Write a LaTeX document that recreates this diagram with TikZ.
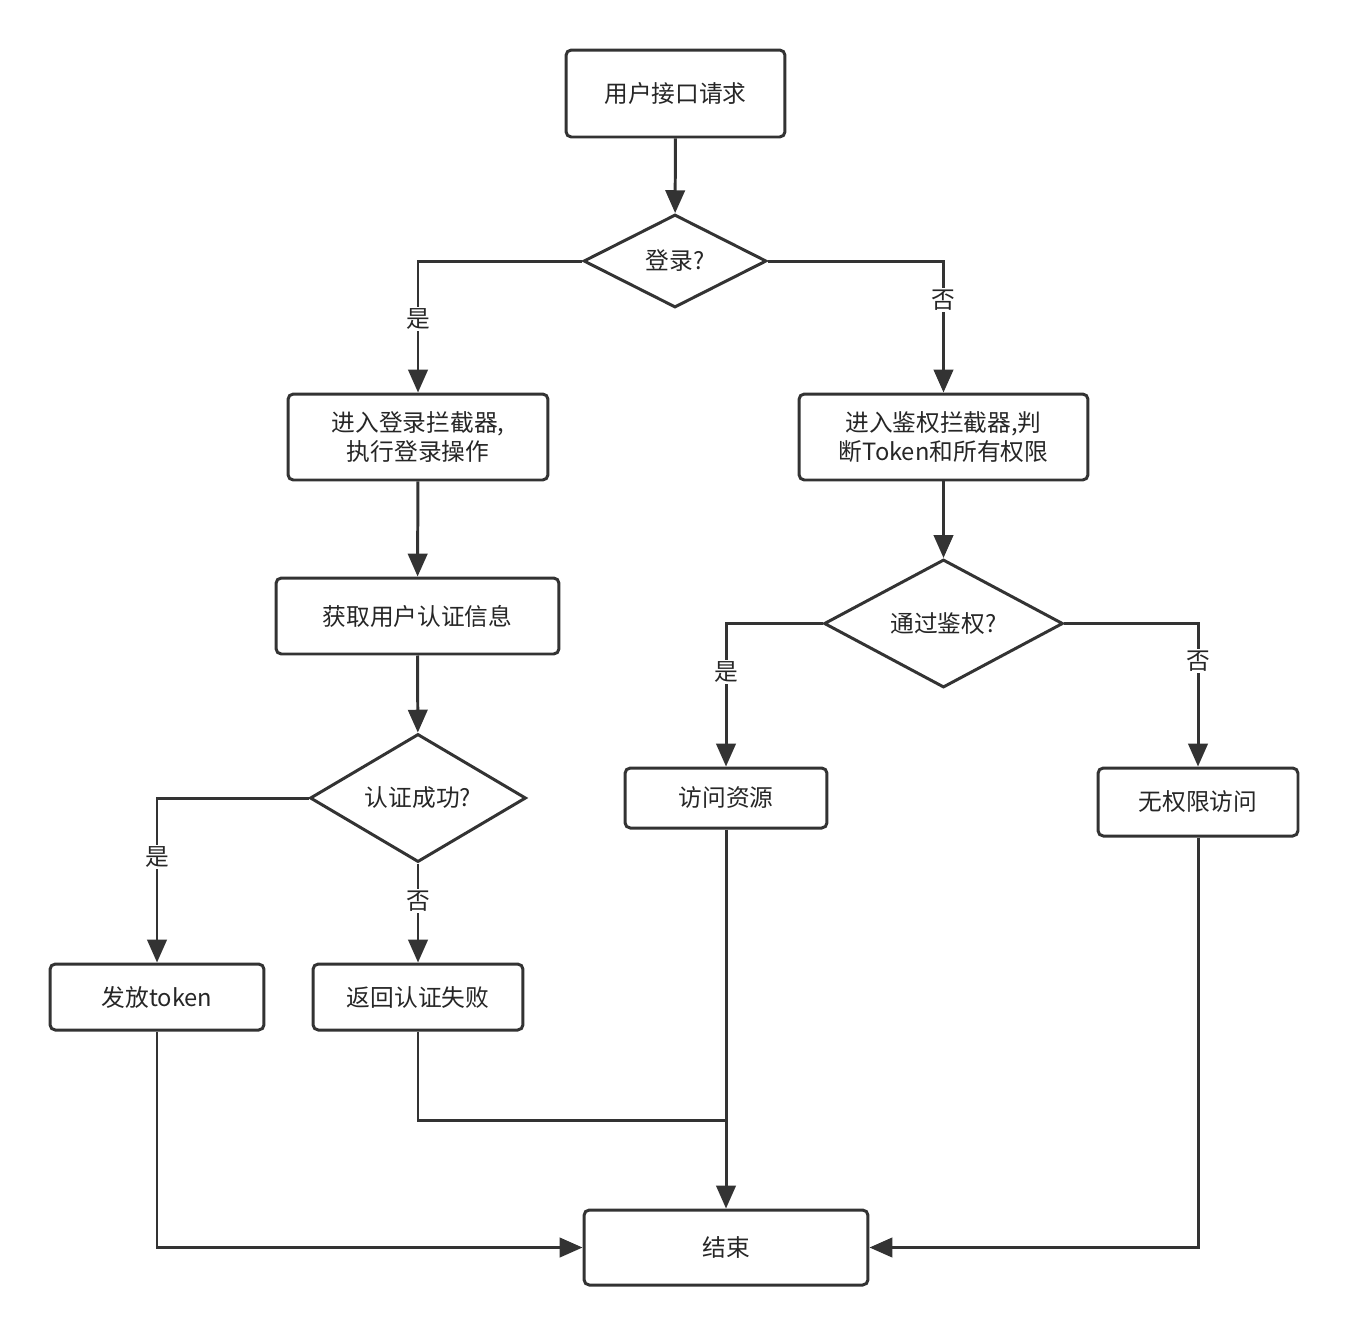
\documentclass[tikz,border=0pt]{standalone}
\usepackage{fontspec}
\setmainfont{Noto Sans CJK SC}
\usetikzlibrary{shapes.geometric,arrows.meta}
\definecolor{lineGray}{HTML}{333333}
\begin{document}
\begin{tikzpicture}[
        x=0.02cm, y=-0.02cm,
        font=\fontsize{13.5}{17}\selectfont,
        boxNode/.style={rectangle, draw=lineGray, line width=1.7pt, rounded corners=3pt, align=center, inner sep=0pt, text=black!85},
        decisionNode/.style={diamond, draw=lineGray, line width=1.7pt, inner sep=0pt, text=black!85},
        flow/.style={draw=lineGray, line width=1.7pt},
        arrow/.style={flow, -{Triangle[length=13pt,width=11pt]}},
        edgeLabel/.style={fill=white, inner sep=1pt, text=black!85}
    ]
        \useasboundingbox (0,0) rectangle (1348,1336);

        % Nodes
        \node[boxNode, minimum width=4.38cm, minimum height=1.74cm] (request) at (675.5,93.5) {用户接口请求};
        \node[decisionNode, minimum width=3.66cm, minimum height=1.86cm] (isLogin) at (675,261) {登录?};
        \node[boxNode, minimum width=5.2cm, minimum height=1.72cm] (loginFilter) at (418,437) {进入登录拦截器,\\执行登录操作};
        \node[boxNode, minimum width=5.78cm, minimum height=1.72cm] (authFilter) at (943.5,437) {进入鉴权拦截器,判\\断Token和所有权限};
        \node[boxNode, minimum width=5.66cm, minimum height=1.52cm] (getInfo) at (417.5,616) {获取用户认证信息};
        \node[decisionNode, minimum width=4.78cm, minimum height=2.26cm] (isAuth) at (943.5,623.5) {通过鉴权?};
        \node[decisionNode, minimum width=4.32cm, minimum height=2.24cm] (isSuccess) at (418,798) {认证成功?};
        \node[boxNode, minimum width=4.04cm, minimum height=1.2cm] (access) at (726,798) {访问资源};
        \node[boxNode, minimum width=4cm, minimum height=1.36cm] (noPerm) at (1198,802) {无权限访问};
        \node[boxNode, minimum width=4.28cm, minimum height=1.32cm] (token) at (157,997) {发放token};
        \node[boxNode, minimum width=4.2cm, minimum height=1.32cm] (fail) at (418,997) {返回认证失败};
        \node[boxNode, minimum width=5.68cm, minimum height=1.5cm] (finish) at (726,1247.5) {结束};

        % Edges
        \draw[arrow] (request) -- (isLogin);
        \draw[arrow] (isLogin.west) -| node[edgeLabel, pos=0.72] {是} (loginFilter);
        \draw[arrow] (isLogin.east) -| node[edgeLabel, pos=0.65] {否} (authFilter);
        \draw[arrow] (loginFilter) -- (getInfo);
        \draw[arrow] (authFilter) -- (isAuth);
        \draw[arrow] (getInfo) -- (isSuccess);
        \draw[arrow] (isAuth.west) -| node[edgeLabel, pos=0.67] {是} (access);
        \draw[arrow] (isAuth.east) -| node[edgeLabel, pos=0.63] {否} (noPerm);
        \draw[arrow] (isSuccess.west) -| node[edgeLabel, pos=0.68] {是} (token);
        \draw[arrow] (isSuccess) -- node[edgeLabel, pos=0.38] {否} (fail);
        \coordinate (merge) at (726,1120);
        \draw[flow] (fail) |- (merge);
        \draw[arrow] (access) -- (finish);
        \draw[arrow] (token) |- (finish);
        \draw[arrow] (noPerm) |- (finish);
    \end{tikzpicture}
\end{document}
